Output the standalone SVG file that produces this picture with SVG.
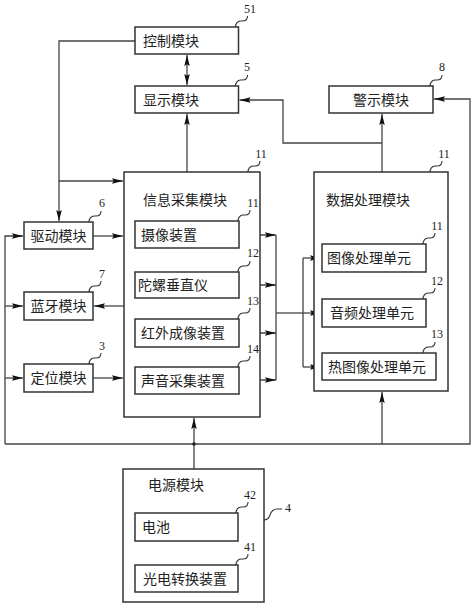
<svg xmlns="http://www.w3.org/2000/svg" width="474" height="606" viewBox="0 0 474 606">
<defs>
<style>
.box{fill:#fff;stroke:#333;stroke-width:1.5}
.ln{fill:none;stroke:#444;stroke-width:1.3}
.ld{fill:none;stroke:#333;stroke-width:1.1}
.t{font-family:"Noto Sans CJK SC","Noto Sans",sans-serif;font-size:14px;fill:#222}
.n{font-family:"Liberation Serif",serif;font-size:12px;fill:#222;text-anchor:middle}
</style>
<marker id="ah" viewBox="0 0 10 10" refX="10" refY="5" markerWidth="11" markerHeight="5.5" markerUnits="userSpaceOnUse" orient="auto-start-reverse" preserveAspectRatio="none">
<path d="M0,0 L10,5 L0,10 L1.5,5 z" fill="#111"/>
</marker>
</defs>
<rect width="474" height="606" fill="#fff"/>

<g id="connectors">
<path class="ln" d="M135,41 H59 V221" marker-end="url(#ah)"/>
<path class="ln" d="M59,181 H123" marker-end="url(#ah)"/>
<path class="ln" d="M187,55 V85" marker-start="url(#ah)" marker-end="url(#ah)"/>
<path class="ln" d="M187,172 V114" marker-end="url(#ah)"/>
<path class="ln" d="M382,172 V114" marker-end="url(#ah)"/>
<path class="ln" d="M382,143 H283 V100 H239.5" marker-end="url(#ah)"/>
<path class="ln" d="M5,444 H470 V99 H434" marker-end="url(#ah)"/>
<path class="ln" d="M5,444 V236 H23" marker-end="url(#ah)"/>
<path class="ln" d="M5,306 H23" marker-end="url(#ah)"/>
<path class="ln" d="M5,378 H23" marker-end="url(#ah)"/>
<path class="ln" d="M382,444 V392" marker-end="url(#ah)"/>
<path class="ln" d="M194,469 V418" marker-end="url(#ah)"/>
<circle cx="194" cy="444" r="1.8" fill="#222"/>
<path class="ln" d="M93,236 H123" marker-end="url(#ah)"/>
<path class="ln" d="M124,306 H94" marker-end="url(#ah)"/>
<path class="ln" d="M93,378 H123" marker-end="url(#ah)"/>
<path class="ln" d="M239,235 H276" marker-end="url(#ah)"/>
<path class="ln" d="M239,285 H276" marker-end="url(#ah)"/>
<path class="ln" d="M239,333 H276" marker-end="url(#ah)"/>
<path class="ln" d="M239,380 H276" marker-end="url(#ah)"/>
<path class="ln" d="M276,235 V380"/>
<path class="ln" d="M276,313 H303"/>
<path class="ln" d="M303,258 V367"/>
<path class="ln" d="M303,258 H321" marker-end="url(#ah)"/>
<path class="ln" d="M303,313 H321" marker-end="url(#ah)"/>
<path class="ln" d="M303,367 H321" marker-end="url(#ah)"/>
<path class="ln" d="M187,565 V542" marker-end="url(#ah)"/>
</g>

<g id="control">
<rect class="box" x="135" y="27" width="103.5" height="27"/>
<text class="t" x="143" y="46">控制模块</text>
<path class="ld" d="M235.5,27 c0,-3 2,-6 5,-6 h2 c3,0 5,-2 5,-5"/>
<text class="n" x="250" y="13">51</text>
</g>

<g id="display">
<rect class="box" x="135" y="86" width="103.5" height="27"/>
<text class="t" x="143" y="105">显示模块</text>
<path class="ld" d="M235.5,86 c0,-3 2,-6 5,-6 h2 c3,0 5,-2 5,-5"/>
<text class="n" x="247" y="71">5</text>
</g>

<g id="alarm">
<rect class="box" x="329" y="86" width="104" height="27"/>
<text class="t" x="381" y="105" text-anchor="middle">警示模块</text>
<path class="ld" d="M430,86 c0,-3 2,-6 5,-6 h2 c3,0 5,-2 5,-5"/>
<text class="n" x="442" y="71">8</text>
</g>

<g id="drive">
<rect class="box" x="24" y="222" width="69" height="27"/>
<text class="t" x="58.5" y="241" text-anchor="middle">驱动模块</text>
<path class="ld" d="M89,222 c0,-3 2,-6 5,-6 h2 c3,0 5,-2 5,-5"/>
<text class="n" x="102" y="207">6</text>
</g>

<g id="bluetooth">
<rect class="box" x="24" y="292" width="69" height="28"/>
<text class="t" x="58.5" y="311" text-anchor="middle">蓝牙模块</text>
<path class="ld" d="M89,292 c0,-3 2,-6 5,-6 h2 c3,0 5,-2 5,-5"/>
<text class="n" x="102" y="278">7</text>
</g>

<g id="locate">
<rect class="box" x="24" y="364" width="69" height="28"/>
<text class="t" x="58.5" y="383" text-anchor="middle">定位模块</text>
<path class="ld" d="M89,364 c0,-3 2,-6 5,-6 h2 c3,0 5,-2 5,-5"/>
<text class="n" x="102" y="350">3</text>
</g>

<g id="info">
<rect class="box" x="124" y="172" width="136" height="245"/>
<text class="t" x="143" y="205">信息采集模块</text>
<path class="ld" d="M248,172 c0,-3 2,-6 5,-6 h2 c3,0 5,-2 5,-5"/>
<text class="n" x="261" y="158">11</text>
</g>

<g id="camera">
<rect class="box" x="135" y="221" width="104" height="27"/>
<text class="t" x="141" y="240">摄像装置</text>
<path class="ld" d="M238,221 c0,-3 2,-6 5,-6 h2 c3,0 5,-2 5,-5"/>
<text class="n" x="253" y="207">11</text>
</g>

<g id="gyro">
<rect class="box" x="135" y="272" width="104" height="26"/>
<text class="t" x="138" y="290">陀螺垂直仪</text>
<path class="ld" d="M238,272 c0,-3 2,-6 5,-6 h2 c3,0 5,-2 5,-5"/>
<text class="n" x="253" y="257">12</text>
</g>

<g id="infrared">
<rect class="box" x="135" y="319" width="104" height="28"/>
<text class="t" x="141" y="338">红外成像装置</text>
<path class="ld" d="M238,319 c0,-3 2,-6 5,-6 h2 c3,0 5,-2 5,-5"/>
<text class="n" x="253" y="305">13</text>
</g>

<g id="sound">
<rect class="box" x="135" y="367" width="104" height="27"/>
<text class="t" x="141" y="386">声音采集装置</text>
<path class="ld" d="M238,367 c0,-3 2,-6 5,-6 h2 c3,0 5,-2 5,-5"/>
<text class="n" x="253" y="353">14</text>
</g>

<g id="data">
<rect class="box" x="314" y="172" width="134" height="219"/>
<text class="t" x="326" y="205">数据处理模块</text>
<path class="ld" d="M430,172 c0,-3 2,-6 5,-6 h2 c3,0 5,-2 5,-5"/>
<text class="n" x="444" y="158">11</text>
</g>

<g id="image-unit">
<rect class="box" x="322" y="244" width="104" height="28"/>
<text class="t" x="327" y="263">图像处理单元</text>
<path class="ld" d="M423,244 c0,-3 2,-6 5,-6 h2 c3,0 5,-2 5,-5"/>
<text class="n" x="437" y="230">11</text>
</g>

<g id="audio-unit">
<rect class="box" x="322" y="299" width="104" height="28"/>
<text class="t" x="330" y="318">音频处理单元</text>
<path class="ld" d="M423,299 c0,-3 2,-6 5,-6 h2 c3,0 5,-2 5,-5"/>
<text class="n" x="437" y="285">12</text>
</g>

<g id="thermal-unit">
<rect class="box" x="322" y="353" width="114" height="27"/>
<text class="t" x="328" y="372">热图像处理单元</text>
<path class="ld" d="M423,353 c0,-3 2,-6 5,-6 h2 c3,0 5,-2 5,-5"/>
<text class="n" x="437" y="338">13</text>
</g>

<g id="power">
<rect class="box" x="123" y="469" width="141" height="133"/>
<text class="t" x="148" y="490">电源模块</text>
<path class="ld" d="M264,520 c3,0 5,-2 6,-5 c1,-3 3,-6 7,-6 h5"/>
<text class="n" x="288" y="512">4</text>
</g>

<g id="battery">
<rect class="box" x="135" y="513" width="103" height="28"/>
<text class="t" x="142" y="532">电池</text>
<path class="ld" d="M236,513 c0,-3 2,-6 5,-6 h2 c3,0 5,-2 5,-5"/>
<text class="n" x="250" y="499">42</text>
</g>

<g id="pv">
<rect class="box" x="135" y="565" width="103" height="27"/>
<text class="t" x="143" y="584">光电转换装置</text>
<path class="ld" d="M236,565 c0,-3 2,-6 5,-6 h2 c3,0 5,-2 5,-5"/>
<text class="n" x="250" y="551">41</text>
</g>
</svg>
